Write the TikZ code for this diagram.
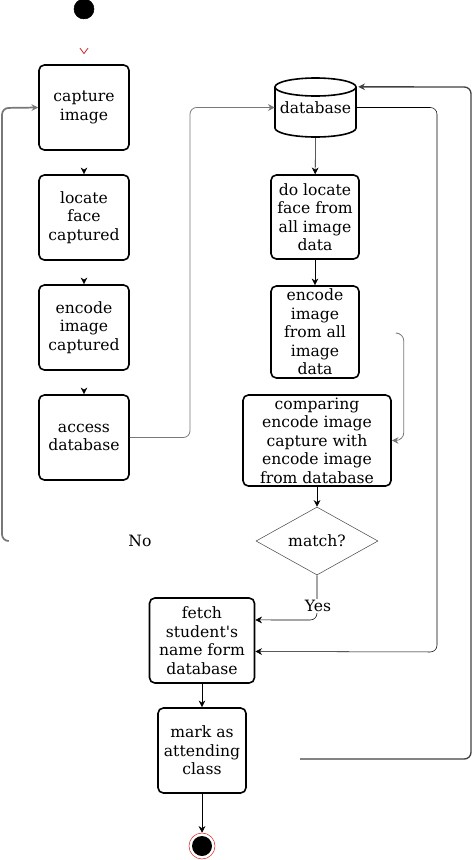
\documentclass[tikz,border=0pt]{standalone}
\usepackage{fontspec}
\setmainfont{DejaVu Serif}
\usepackage{tikz}
\usetikzlibrary{
arrows.meta,
positioning,
shapes.geometric,
calc
}
\definecolor{flowgray}{RGB}{120,120,120}
\definecolor{flowred}{HTML}{D62728}

\begin{document}
\begin{tikzpicture}[
  x=0.75pt, y=-0.75pt,
  act/.style={draw, line width=1.2pt, rounded corners=4pt, minimum width=67.5pt, minimum height=63.75pt, inner sep=1pt, align=center, font=\fontsize{11.7}{13.9}\selectfont},
  store/.style={minimum width=60.75pt, minimum height=44.25pt, inner sep=1pt, font=\fontsize{11.7}{13.9}\selectfont},
  choice/.style={draw=black!70, thin, diamond, aspect=1.8, inner sep=0pt, minimum width=91.5pt, minimum height=51pt, font=\fontsize{11.7}{13.9}\selectfont},
  tag/.style={font=\fontsize{11.7}{13.9}\selectfont, fill=white, inner sep=1pt},
  flow/.style={-{Stealth[length=5pt, width=5pt]}, thin},
  gflow/.style={-{Stealth[length=5pt, width=5pt]}, flowgray, semithick, rounded corners=5pt},
  ghost/.style={white, -{Stealth[length=5pt, width=5pt, black]}},
]
  \useasboundingbox (0,0) rectangle (474,860);

  % Start and end
  \node[circle, fill=black, draw=black, inner sep=0pt, minimum size=15pt] (start) at (84,9) {};
  \node[circle, draw=flowred, thin, inner sep=0pt, minimum size=19.5pt,
    path picture={\fill[black] (path picture bounding box.center) circle (7.5pt);}] (stop) at (202,846) {};

  % Capture side
  \node[act] (cap) at (84,107.5) {capture\\image};
  \node[act] (loc) at (84,217.5) {locate\\face\\captured};
  \node[act] (enc) at (84,327.5) {encode\\image\\captured};
  \node[act] (acc) at (84,437.5) {access\\database};

  % Database side
  \node[store] (dbase) at (315.5,107.5) {database};
  \draw[line width=1.2pt] (315.5,87) ellipse [x radius=40.5, y radius=9];
  \draw[line width=1.2pt] (275,87) -- (275,128)
    arc [start angle=180, end angle=0, x radius=40.5, y radius=9] -- (356,87);
  \node[act, minimum width=66pt, minimum height=63pt] (doloc) at (315,217) {do locate\\face from\\all image\\data};
  \node[act, minimum width=66pt, minimum height=69pt] (encall) at (315,332) {encode\\image\\from all\\image\\data};
  \node[act, minimum width=111pt, minimum height=68.25pt] (cmp) at (317,440.5) {comparing\\encode image\\capture with\\encode image\\from database};
  \node[choice] (match) at (317,541) {match?};
  \node[act, minimum width=78.75pt] (fetch) at (202,640.5) {fetch\\student\textquotesingle s\\name form\\database};
  \node[act, minimum width=66pt] (mark) at (202,750.5) {mark as\\attending\\class};

  % Free ends
  \coordinate (noend) at (8,541);
  \coordinate (cin) at (397,333);
  \coordinate (loopstart) at (300,759);

  % Left column
  \draw[ghost, semithick, -{Straight Barb[length=4pt, width=6pt, flowred]}, shorten >=7.5pt] (start) -- (cap);
  \draw[ghost] (cap) -- (loc);
  \draw[ghost] (loc) -- (enc);
  \draw[ghost] (enc) -- (acc);

  % Loops and links
  \draw[gflow] (acc.east) -| (190,107.5) -- (dbase.west);
  \draw[gflow, line width=1.3pt] (noend) -| (2,108) -- (cap.west);
  \node[font=\fontsize{11.7}{13.9}\selectfont] (nolbl) at (140,541) {No};

  \draw[flow] (dbase) -- (doloc);
  \draw[flow] (doloc) -- (encall);
  \draw[gflow, rounded corners=6pt] (cin) -| ([xshift=9pt]cmp.east) -- (cmp.east);
  \draw[flow] (cmp) -- (match);
  \draw[flow, rounded corners=5pt] (match.south) -- (317,620) -- ([yshift=15.4pt]fetch.east);
  \node[tag] (yeslbl) at (318,606) {Yes};
  \draw[flow, rounded corners=5pt] (dbase.east) -| (437,652) -- ([yshift=-8.25pt]fetch.east);
  \draw[flow] (fetch) -- (mark);
  \draw[flow] (mark) -- (stop);
  \draw[gflow, line width=1pt, black!75] (loopstart) -| (471,87) -- ([yshift=15.5pt, xshift=1.5pt]dbase.east);

\end{tikzpicture}
\end{document}
